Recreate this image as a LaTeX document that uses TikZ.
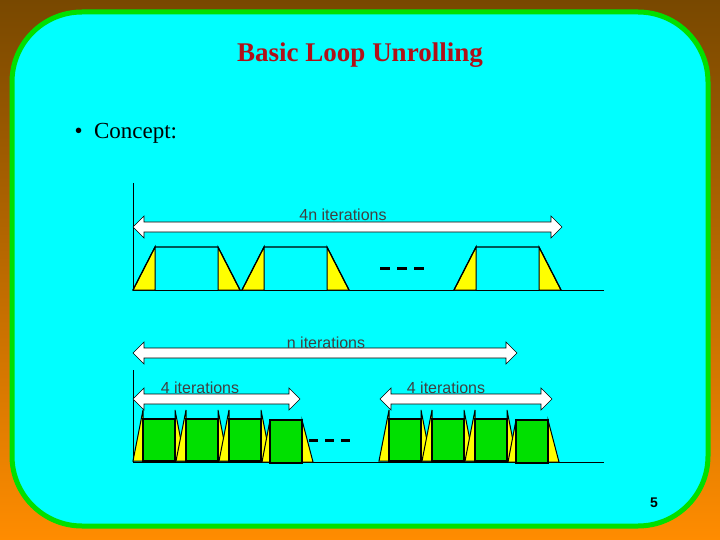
\documentclass[tikz,border=0pt]{standalone}
\usepackage{fontspec}
\setmainfont{Liberation Serif}
\setsansfont{Liberation Sans}
\usetikzlibrary{arrows.meta,shapes.arrows}
\definecolor{cy}{HTML}{00FFFF}
\definecolor{gb}{HTML}{00E000}
\definecolor{tr}{HTML}{B01018}
\definecolor{yl}{HTML}{FFFF00}
\definecolor{gr}{HTML}{00E000}
\tikzset{
 lbl/.style={font=\sffamily\fontsize{16}{16}\selectfont, text=black!75},
 dbl/.style={draw=black, fill=white, line width=0.6pt},
 tri/.style={fill=yl, draw=black, line width=1pt},
 blk/.style={fill=gr, draw=black, line width=1.2pt},
 ax/.style={draw=black, line width=0.4pt},
}
\newcommand{\darrow}[3]{% x1 x2 y
 \draw[dbl] (#1,#3) -- (#1+11,#3-11) -- (#1+11,#3-5) -- (#2-11,#3-5) -- (#2-11,#3-11) -- (#2,#3) -- (#2-11,#3+11) -- (#2-11,#3+5) -- (#1+11,#3+5) -- (#1+11,#3+11) -- cycle;}
\newcommand{\trap}[1]{% left bottom x
 \draw[tri] (#1,290) -- (#1+22,247) -- (#1+22,290) -- cycle;
 \draw[tri] (#1+85,247) -- (#1+107,290) -- (#1+85,290) -- cycle;
 \draw[line width=1.2pt] (#1,290) -- (#1+22,247) -- (#1+85,247) -- (#1+107,290);}
\newcommand{\gblk}[2]{% rect left x, top y
 \draw[tri] (#1-10,461) -- (#1,410) -- (#1,461) -- cycle;
 \draw[tri] (#1+32,410) -- (#1+42,461) -- (#1+32,461) -- cycle;
 \draw[blk] (#1,#2) rectangle (#1+32,461);}
\begin{document}
\begin{tikzpicture}[x=1pt,y=-1pt]
\shade[top color={rgb,255:red,120;green,72;blue,0}, bottom color={rgb,255:red,255;green,140;blue,0}] (0,0) rectangle (720,540);
\useasboundingbox (0,0) rectangle (720,540);
\draw[fill=cy, draw=gb, line width=5pt, rounded corners=70pt] (12,12) rectangle (708,526);
\node[text=tr, font=\bfseries\fontsize{27}{27}\selectfont] (title) at (360,55) {Basic Loop Unrolling};
\node[anchor=west, font=\fontsize{23}{23}\selectfont] (bul) at (71,133) {\textbullet\ \ Concept:};
% top diagram
\draw[ax] (133,183) -- (133,290) -- (604,290);
\darrow{133}{562}{227}
\node[lbl] (l1) at (343,215) {4n iterations};
\trap{133}\trap{242}\trap{454}
\foreach \x in {380,397,414} \draw[line width=3pt] (\x,268) -- (\x+10,268);
% bottom diagram
\draw[ax] (133,370) -- (133,462) -- (604,462);
\darrow{133}{517}{353}
\node[lbl] (l2) at (326,343) {n iterations};
\darrow{133}{300}{399}
\node[lbl] (l3) at (200,388) {4 iterations};
\darrow{380}{552}{399}
\node[lbl] (l4) at (446,388) {4 iterations};
\gblk{143}{419}\gblk{186}{419}\gblk{229}{419}
\draw[tri] (262,462) -- (270,420) -- (270,462) -- cycle;
\draw[tri] (302,420) -- (313,462) -- (302,462) -- cycle;
\draw[blk] (270,420) rectangle (302,463);
\gblk{389}{419}\gblk{432}{419}\gblk{475}{419}
\draw[tri] (508,462) -- (516,420) -- (516,462) -- cycle;
\draw[tri] (548,420) -- (559,462) -- (548,462) -- cycle;
\draw[blk] (516,420) rectangle (548,463);
\foreach \x in {309,325,341} \draw[line width=3pt] (\x,440) -- (\x+9,440);
\node[font=\sffamily\bfseries\fontsize{14}{14}\selectfont] (pg) at (654,503) {5};
\end{tikzpicture}
\end{document}
